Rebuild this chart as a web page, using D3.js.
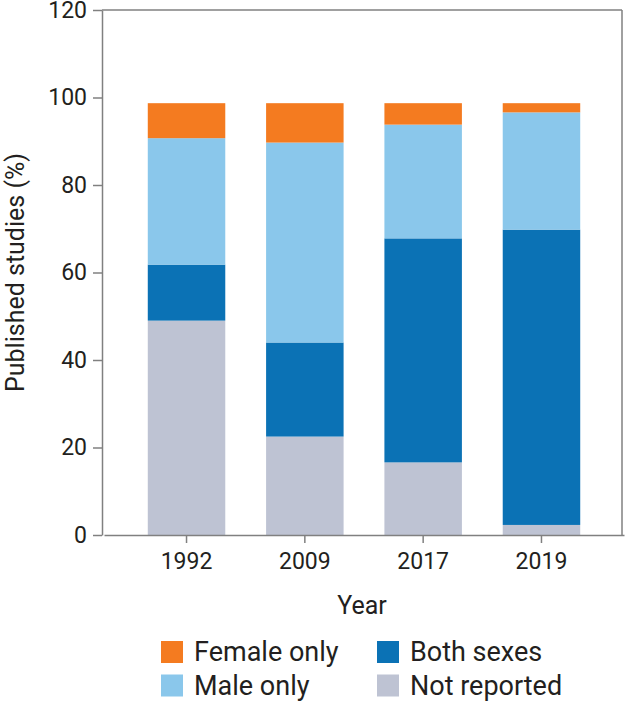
<!DOCTYPE html>
<html>
<head>
<meta charset="utf-8">
<script src="https://cdn.jsdelivr.net/npm/d3@7"></script>
<style>
  body { margin: 0; background: #fff; }
  text { font-family: Roboto, sans-serif; fill: #231f20; }
</style>
</head>
<body>
<svg id="chart"></svg>
<script>
var years = ["1992", "2009", "2017", "2019"];
var notReported = [49, 22.5, 16.6, 2.3];
var bothSexes = [12.8, 21.5, 51.2, 67.5];
var maleOnly = [28.9, 45.7, 26, 26.8];
var femaleOnly = [8, 9, 4.9, 2.1];
var yTicks = [0, 20, 40, 60, 80, 100, 120];

var seriesNames = ["Not reported", "Both sexes", "Male only", "Female only"];
var seriesColors = ["#bec3d3", "#0b72b5", "#8ac7eb", "#f47b20"];

var rows = years.map(function (y, i) {
  return {
    year: y,
    "Not reported": notReported[i],
    "Both sexes": bothSexes[i],
    "Male only": maleOnly[i],
    "Female only": femaleOnly[i]
  };
});

var width = 630, height = 703;
var plotLeft = 102, plotRight = 622, plotTop = 10, plotBottom = 535;

var svg = d3.select("#chart")
  .attr("width", width)
  .attr("height", height);

var x = d3.scaleBand()
  .domain(years)
  .range([plotLeft + 2, plotRight + 2])
  .paddingInner(0.345)
  .paddingOuter(0.37);

var y = d3.scaleLinear()
  .domain([0, 120])
  .range([plotBottom, plotTop]);

var color = d3.scaleOrdinal(seriesNames, seriesColors);

var stacked = d3.stack().keys(seriesNames)(rows);

svg.append("g")
  .selectAll("g")
  .data(stacked)
  .enter()
  .append("g")
  .attr("fill", function (d) { return color(d.key); })
  .selectAll("rect")
  .data(function (d) { return d; })
  .enter()
  .append("rect")
  .attr("x", function (d) { return x(d.data.year); })
  .attr("width", x.bandwidth())
  .attr("y", function (d) { return y(d[1]); })
  .attr("height", function (d) { return y(d[0]) - y(d[1]); });

// frame
var frameColor = "#808080";
function styleAxis(g) {
  g.select(".domain").attr("stroke", frameColor).attr("stroke-width", 1.5);
  g.selectAll(".tick line").attr("stroke", frameColor).attr("stroke-width", 1.5);
  g.selectAll(".tick text").style("font-size", "23px").attr("fill", "#231f20");
}

svg.append("g")
  .attr("transform", "translate(" + plotLeft + ",0)")
  .call(d3.axisLeft(y).tickValues(yTicks).tickSize(9).tickPadding(6).tickSizeOuter(0))
  .call(styleAxis);

svg.append("g")
  .attr("transform", "translate(0," + plotBottom + ")")
  .call(d3.axisBottom(x).tickSize(8).tickPadding(10).tickSizeOuter(0))
  .call(styleAxis);

svg.append("line")
  .attr("x1", plotLeft).attr("x2", plotRight)
  .attr("y1", plotTop).attr("y2", plotTop)
  .attr("stroke", frameColor).attr("stroke-width", 1.5);

svg.append("line")
  .attr("x1", plotRight).attr("x2", plotRight)
  .attr("y1", plotTop).attr("y2", plotBottom)
  .attr("stroke", frameColor).attr("stroke-width", 1.5);

// axis titles
svg.append("text")
  .attr("x", (plotLeft + plotRight) / 2)
  .attr("y", 614)
  .attr("text-anchor", "middle")
  .style("font-size", "25px")
  .text("Year");

svg.append("text")
  .attr("transform", "translate(24," + (plotBottom + plotTop) / 2 + ") rotate(-90)")
  .attr("text-anchor", "middle")
  .style("font-size", "25px")
  .text("Published studies (%)");

// legend
var legendItems = ["Female only", "Both sexes", "Male only", "Not reported"];
var legend = svg.append("g");
legendItems.forEach(function (name, i) {
  var col = i % 2, row = Math.floor(i / 2);
  var lx = 161 + col * 216, ly = 641 + row * 33.5;
  legend.append("rect")
    .attr("x", lx).attr("y", ly)
    .attr("width", 22).attr("height", 22)
    .attr("fill", color(name));
  legend.append("text")
    .attr("x", lx + 33).attr("y", ly + 20)
    .style("font-size", "27px")
    .text(name);
});
</script>
</body>
</html>
